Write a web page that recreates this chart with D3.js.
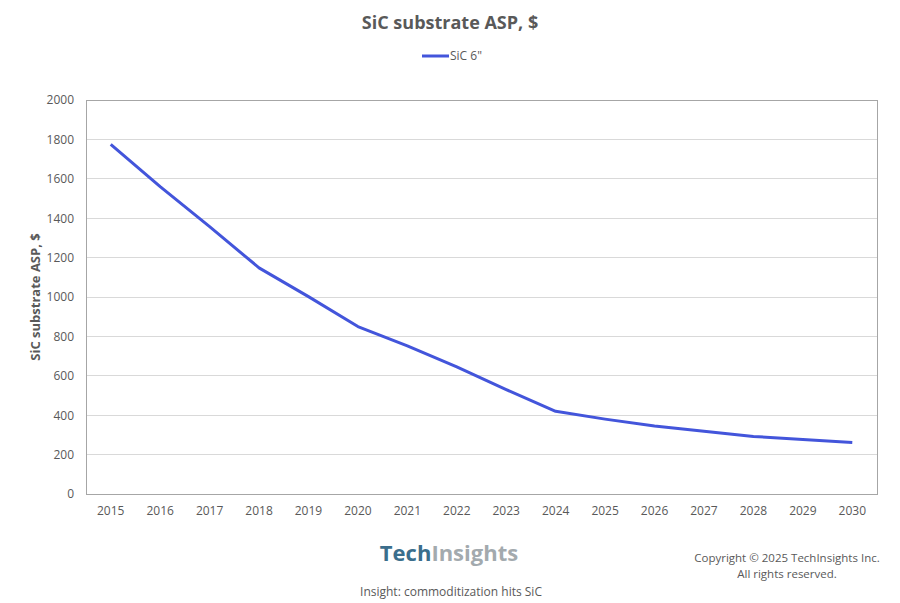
<!DOCTYPE html>
<html><head><meta charset="utf-8">
<script src="https://cdn.jsdelivr.net/npm/d3@7"></script>
<style>body{margin:0;background:#fff;} text{font-family:"Open Sans","Noto Sans",sans-serif;}</style>
</head><body>
<svg id="c" width="900" height="603"></svg>
<script>
const years = ["2015","2016","2017","2018","2019","2020","2021","2022","2023","2024","2025","2026","2027","2028","2029","2030"];
const sic6 = [1775,1560,1357,1148,1002,850,752,645,530,420,380,345,318,292,277,262];
const yTicks = [0,200,400,600,800,1000,1200,1400,1600,1800,2000];
const seriesName = "SiC 6\"";

const svg = d3.select("#c");
const L=86,R=877,T=100,B=494;
const x = d3.scaleBand().domain(years).range([L,R]);
const y = d3.scaleLinear().domain([0,2000]).range([B,T]);
const grey="#595959";

svg.append("g").selectAll("line").data(yTicks.filter(d=>d>0&&d<2000)).join("line")
  .attr("x1",L).attr("x2",R).attr("y1",d=>y(d)).attr("y2",d=>y(d))
  .attr("stroke","#d9d9d9").attr("stroke-width",1).attr("shape-rendering","crispEdges");
svg.append("rect").attr("x",L).attr("y",T).attr("width",R-L).attr("height",B-T)
  .attr("fill","none").attr("stroke","#a6a6a6").attr("shape-rendering","crispEdges");

const ya = svg.append("g").attr("transform",`translate(${L},0)`)
  .call(d3.axisLeft(y).tickValues(yTicks).tickFormat(d3.format("d")).tickSize(0).tickPadding(12));
ya.select(".domain").remove();
ya.selectAll("text").attr("fill",grey).attr("font-size",12).attr("font-family","'Open Sans',sans-serif");

const xa = svg.append("g").attr("transform",`translate(0,${B})`)
  .call(d3.axisBottom(x).tickSize(0).tickPadding(12));
xa.select(".domain").remove();
xa.selectAll("text").attr("fill",grey).attr("font-size",12).attr("font-family","'Open Sans',sans-serif");

const line = d3.line().x((d,i)=>x(years[i])+x.bandwidth()/2).y(d=>y(d));
svg.append("path").datum(sic6).attr("d",line).attr("fill","none")
  .attr("stroke","#4355DB").attr("stroke-width",3).attr("stroke-linejoin","round");

svg.append("text").attr("x",450).attr("y",29).attr("text-anchor","middle")
  .attr("font-size",18).attr("font-weight","bold").attr("fill",grey).text("SiC substrate ASP, $");
svg.append("line").attr("x1",422).attr("x2",449).attr("y1",56).attr("y2",56)
  .attr("stroke","#4355DB").attr("stroke-width",3);
svg.append("text").attr("x",450).attr("y",60).attr("font-size",12).attr("fill",grey).text(seriesName);

svg.append("text").attr("transform","translate(40,297) rotate(-90)").attr("text-anchor","middle")
  .attr("font-size",13).attr("font-weight","bold").attr("fill",grey).text("SiC substrate ASP, $");

const logo = svg.append("text").attr("x",449).attr("y",561).attr("text-anchor","middle")
  .attr("font-size",22).attr("font-weight","bold");
logo.append("tspan").attr("fill","#3b6e8c").text("Tech");
logo.append("tspan").attr("fill","#a3aaae").text("Insights");

svg.append("text").attr("x",787).attr("y",562).attr("text-anchor","middle")
  .attr("font-size",11.5).attr("fill",grey).text("Copyright © 2025  TechInsights Inc.");
svg.append("text").attr("x",787).attr("y",578).attr("text-anchor","middle")
  .attr("font-size",11.5).attr("fill",grey).text("All rights reserved.");
svg.append("text").attr("x",451).attr("y",596).attr("text-anchor","middle")
  .attr("font-size",12).attr("fill",grey).text("Insight: commoditization hits SiC");
</script>
</body></html>
